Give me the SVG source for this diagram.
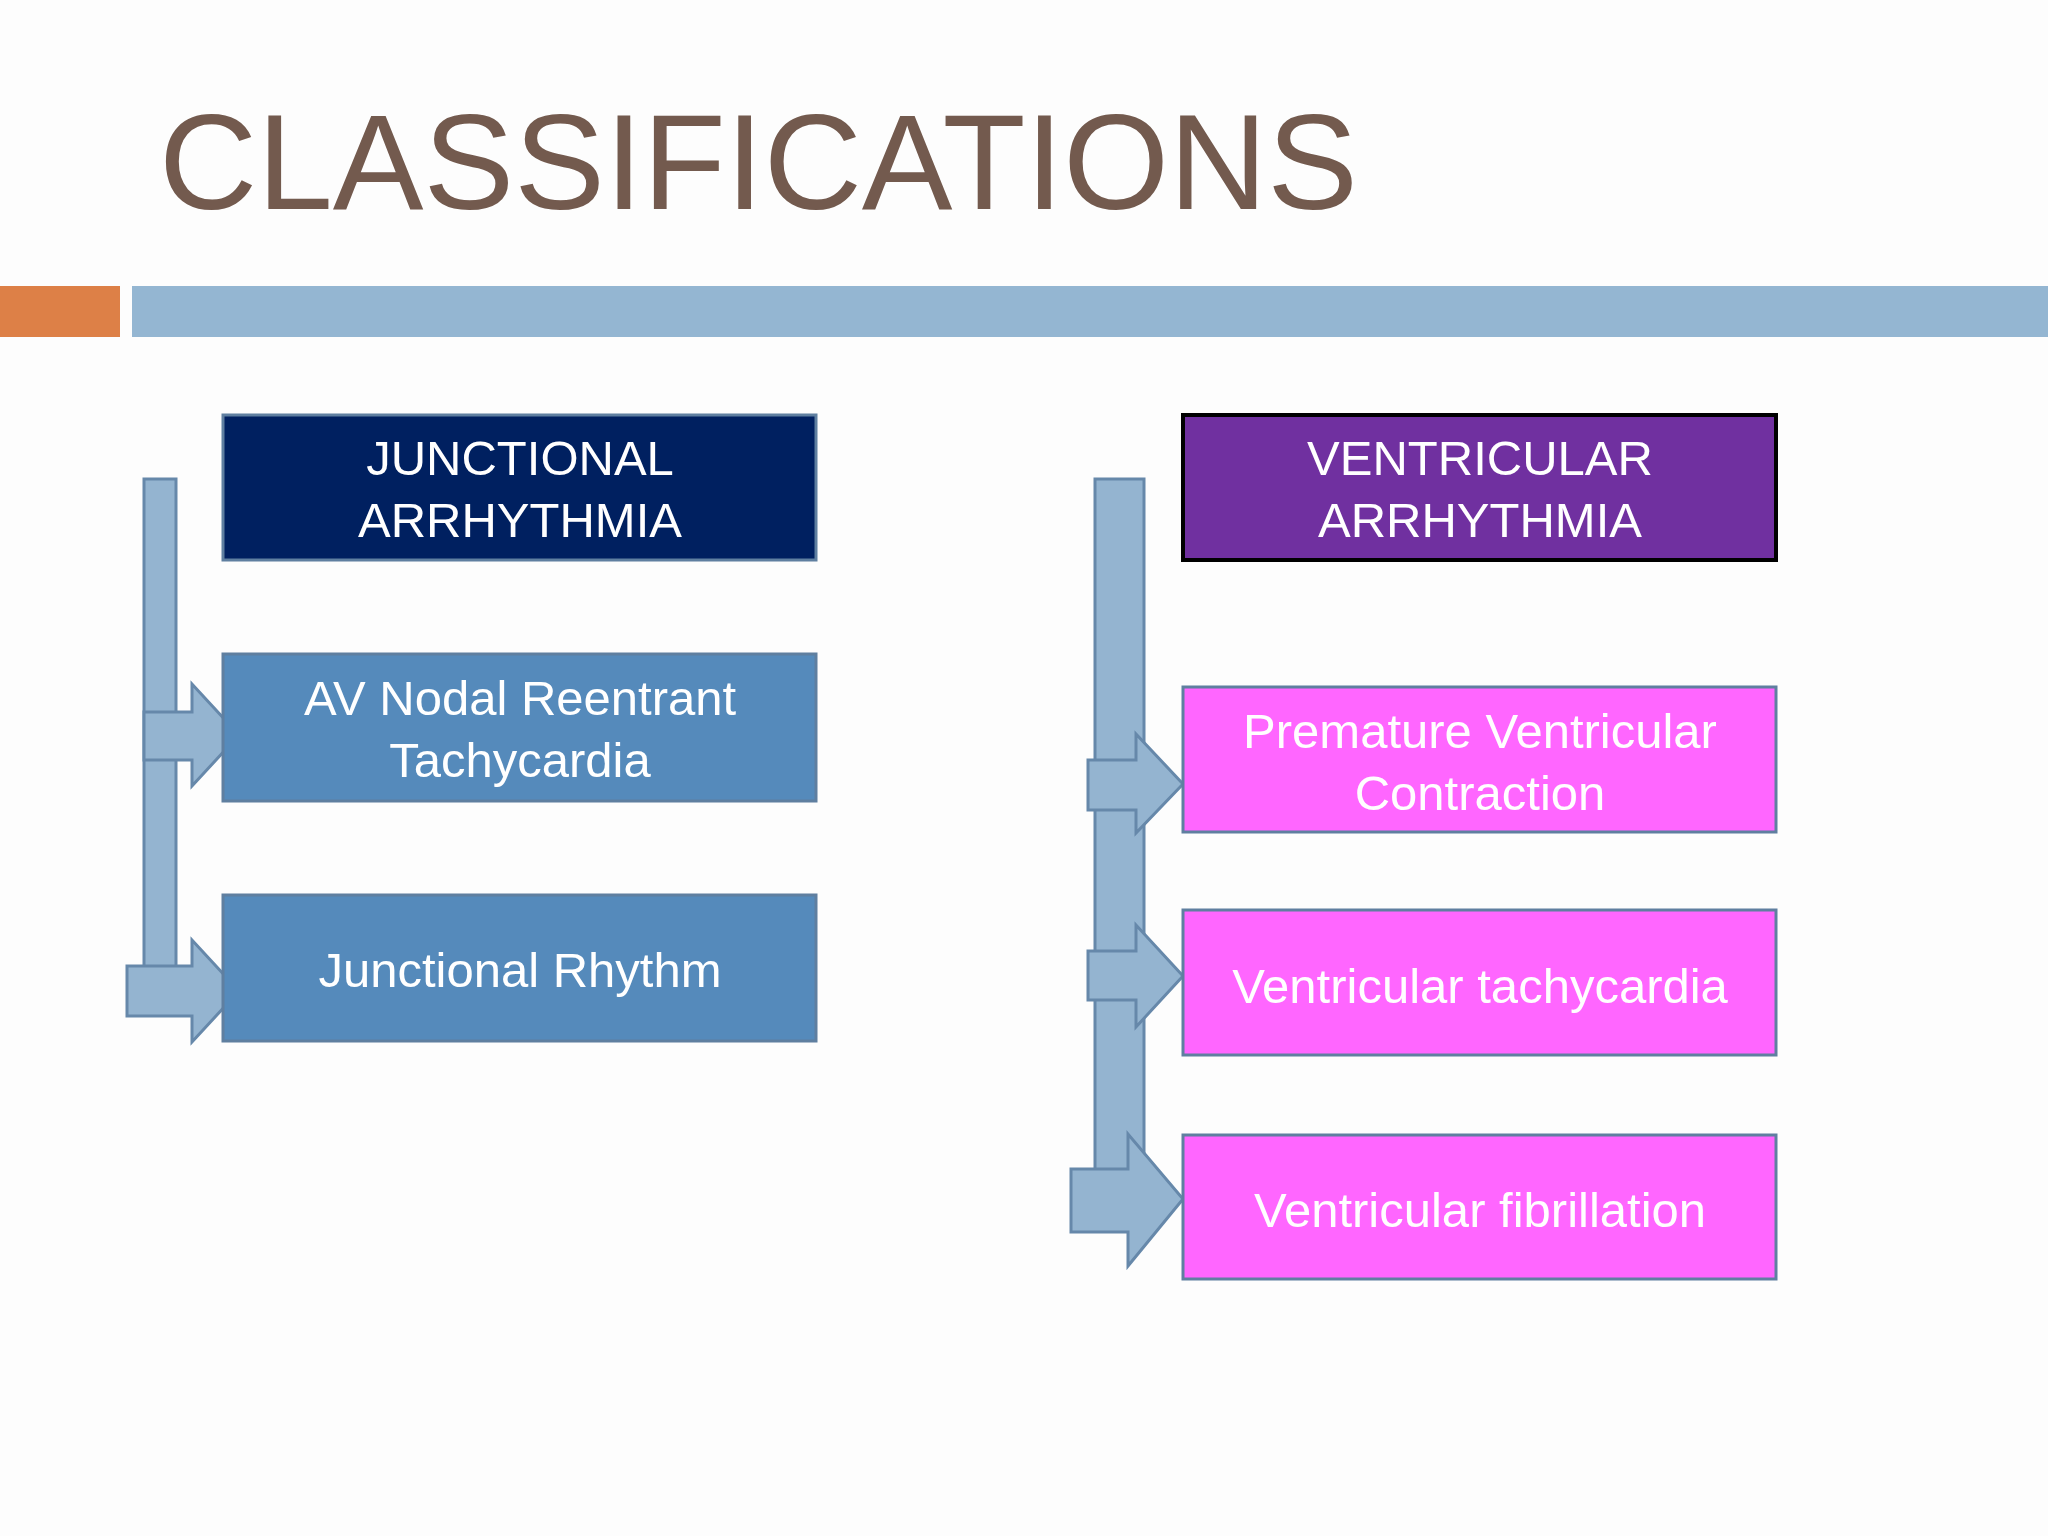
<svg xmlns="http://www.w3.org/2000/svg" width="2048" height="1536" viewBox="0 0 2048 1536">
<style>
.t{font-family:"Liberation Sans",Arial,sans-serif;fill:#fff;font-size:49px;text-anchor:middle}
.ar{fill:#94b4d0;stroke:#6688aa;stroke-width:3}
.bx{stroke:#5f7fa0;stroke-width:3}
</style>
<rect width="2048" height="1536" fill="#fdfdfd"/>
<text x="159" y="209" font-family="Liberation Sans,Arial,sans-serif" font-size="136" fill="#735a4e">CLASSIFICATIONS</text>
<rect x="0" y="286" width="120" height="51" fill="#dd8047"/>
<rect x="132" y="286" width="1916" height="51" fill="#94b6d2"/>
<g id="connectors">
<rect class="ar" x="144" y="479" width="32" height="494"/>
<path class="ar" d="M144 712H192V684L239 735L192 786V760H144Z"/>
<path class="ar" d="M127 966H192V940L239 991L192 1042V1016H127Z"/>
<rect class="ar" x="1095" y="479" width="49" height="696"/>
<path class="ar" d="M1088 760H1136V734L1183 784L1136 833V810H1088Z"/>
<path class="ar" d="M1088 951H1136V925L1183 976L1136 1027V1000H1088Z"/>
<path class="ar" d="M1071 1169H1128V1134L1183 1199L1128 1266V1232H1071Z"/>
</g>
<g id="n1"><rect class="bx" x="223" y="415" width="593" height="145" fill="#002060"/>
<text class="t" x="520" y="475">JUNCTIONAL</text><text class="t" x="520" y="537">ARRHYTHMIA</text></g>
<g id="n2"><rect class="bx" x="223" y="654" width="593" height="147" fill="#558abb"/>
<text class="t" x="520" y="715">AV Nodal Reentrant</text><text class="t" x="520" y="777">Tachycardia</text></g>
<g id="n3"><rect class="bx" x="223" y="895" width="593" height="146" fill="#558abb"/>
<text class="t" x="520" y="987">Junctional Rhythm</text></g>
<g id="n4"><rect x="1183" y="415" width="593" height="145" fill="#7030a0" stroke="#000" stroke-width="4"/>
<text class="t" x="1480" y="475">VENTRICULAR</text><text class="t" x="1480" y="537">ARRHYTHMIA</text></g>
<g id="n5"><rect class="bx" x="1183" y="687" width="593" height="145" fill="#ff66ff"/>
<text class="t" x="1480" y="748">Premature Ventricular</text><text class="t" x="1480" y="810">Contraction</text></g>
<g id="n6"><rect class="bx" x="1183" y="910" width="593" height="145" fill="#ff66ff"/>
<text class="t" x="1480" y="1003">Ventricular tachycardia</text></g>
<g id="n7"><rect class="bx" x="1183" y="1135" width="593" height="144" fill="#ff66ff"/>
<text class="t" x="1480" y="1227">Ventricular fibrillation</text></g>
</svg>
